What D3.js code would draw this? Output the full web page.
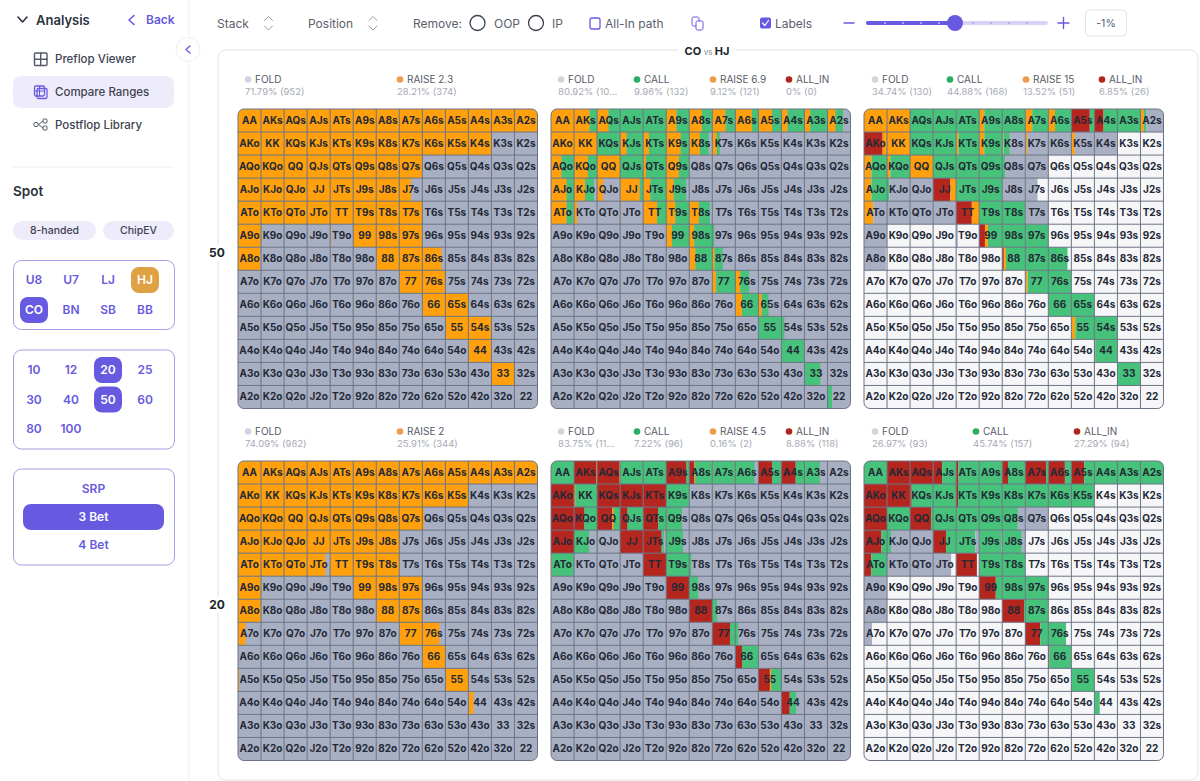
<!DOCTYPE html>
<html>
<head>
<meta charset="utf-8">
<title>Compare Ranges</title>
<script src="https://cdn.jsdelivr.net/npm/d3@7"></script>
<style>
  html, body { margin: 0; padding: 0; background: #fff; overflow: hidden; }
  svg { display: block; font-family: Inter, "Noto Sans", sans-serif; }
</style>
</head>
<body>
<svg id="page" width="1200" height="781"></svg>
<script>
const ranks = ["A","K","Q","J","T","9","8","7","6","5","4","3","2"];
const purple = "#675ae0";
const foldGray = "#a8afc3";
const deadWhite = "#f6f6f8";

// colours of a cell, drawn left to right in this order
const actionColors = { allin: "#b5261f", raise: "#ffa00c", call: "#46c27a", fold: foldGray };

// top left, 50bb, raise 2.3
const tlPureRaise = ["AA","AKs","AQs","AJs","ATs","A9s","A8s","A7s","A6s","A5s","A4s","A3s","A2s",
  "AKo","KK","KQs","KJs","KTs","K9s","K8s","K7s","K6s","K5s","K4s",
  "AQo","KQo","QQ","QJs","QTs","Q9s","Q8s","Q7s",
  "AJo","KJo","QJo","JJ","JTs","J9s","J8s",
  "ATo","KTo","QTo","JTo","TT","T9s","T8s","T7s",
  "A9o","99","98s","97s","88","87s","77","76s","66","65s","55","54s","44","33"];
// [hand, all-in, raise, call, fold]
const tlMixed = [["J7s",0,52,0,48],["T9o",0,5,0,95],["A8o",0,96,0,4],["86s",0,84,0,16]];

// top middle, 50bb, raise 6.9
const tmPureRaise = ["AA","AKo","KK","QQ"];
const tmPureCall = ["AJs","ATs","KQs","QJs","55","44"];
const tmMixed = [["AKs",0,68,32,0],["AQs",0,50,50,0],["A9s",0,45,55,0],["A8s",0,55,45,0],
  ["A7s",0,58,42,0],["A6s",0,72,28,0],["A5s",0,60,40,0],["A4s",0,27,73,0],["A3s",0,25,75,0],["A2s",0,35,33,32],
  ["KJs",0,28,72,0],["KTs",0,25,75,0],["K9s",0,63,37,0],["K8s",0,46,39,15],["K7s",0,20,13,67],["K6s",0,0,4,96],
  ["AQo",0,46,54,0],["KQo",0,60,40,0],["QTs",0,12,88,0],["Q9s",0,55,45,0],
  ["AJo",0,68,32,0],["KJo",0,48,39,13],["QJo",0,27,0,73],["JJ",0,85,15,0],["JTs",0,32,68,0],["J9s",0,33,55,12],
  ["ATo",0,68,28,4],["KTo",0,14,0,86],["JTo",0,3,0,97],["TT",0,61,39,0],["T9s",0,40,60,0],["T8s",0,42,48,10],
  ["99",0,25,75,0],["98s",0,22,78,0],["97s",0,0,10,90],["88",0,27,73,0],["87s",0,10,36,54],
  ["77",0,17,83,0],["76s",0,22,39,39],["66",0,29,71,0],["65s",0,15,30,55],["54s",0,0,14,86],
  ["33",0,0,70,30],["22",0,0,20,80]];

// top right, 50bb, raise 15, hands outside the range stay white
const trPureRaise = ["AA","AKs","KK","QQ"];
const trPureCall = ["AQs","AJs","ATs","A8s","A3s","KQs","KJs","QJs","QTs","Q9s","JTs","J9s",
  "T9s","T8s","98s","97s","87s","76s","66","65s","54s","33"];
const trPureFold = ["K6s","K4s","Q7s","QJo","J8s","KTo","QTo","JTo","T7s","A9o"];
const trMixed = [["A9s",0,22,78,0],["A7s",0,30,70,0],["A6s",0,29,71,0],["A5s",80,0,20,0],["A4s",40,0,60,0],["A2s",0,15,10,75],
  ["AKo",81,19,0,0],["KTs",0,10,90,0],["K9s",0,22,78,0],["K8s",0,5,28,67],["K7s",0,8,0,92],["K5s",0,15,0,85],
  ["AQo",0,32,68,0],["KQo",0,14,86,0],["Q8s",0,0,12,88],
  ["AJo",0,32,68,0],["KJo",0,0,10,90],["JJ",75,25,0,0],["J7s",0,0,0,53],
  ["ATo",0,40,0,60],["TT",68,32,0,0],["T9o",0,0,0,7],["99",25,13,62,0],
  ["A8o",0,0,0,95],["88",7,9,84,0],["86s",0,0,83,0],["77",0,10,90,0],["55",0,17,83,0],["44",4,0,96,0]];

// bottom left, 20bb, raise 2
const blPureRaise = ["AA","AKs","AQs","AJs","ATs","A9s","A8s","A7s","A6s","A5s","A4s","A3s","A2s",
  "AKo","KK","KQs","KJs","KTs","K9s","K8s","K7s","K6s","K5s",
  "AQo","KQo","QQ","QJs","QTs","Q9s","Q8s","Q7s",
  "AJo","KJo","QJo","JJ","JTs","J9s","J8s",
  "ATo","KTo","QTo","TT","T9s","T8s",
  "A9o","99","98s","97s","A8o","88","87s","77","66","55"];
const blMixed = [["Q6s",0,8,0,92],["JTo",0,80,0,20],["A7o",0,33,0,67],["76s",0,75,0,25],["A5o",0,6,0,94],["44",0,23,0,77]];

// bottom middle, 20bb, raise 4.5
const bmPureCall = ["AJs","ATs","K9s","T9s"];
const bmPureAllin = ["AKo","KQs","KJs","KTs","AQo","AJo","JJ","TT","99","88"];
const bmMixed = [["AA",0,2,98,0],["AKs",96,4,0,0],["AQs",97,3,0,0],["A9s",88,0,12,0],["A8s",22,4,74,0],
  ["A7s",0,4,96,0],["A6s",0,3,81,16],["A5s",60,0,40,0],["A4s",62,0,38,0],["A3s",0,0,67,33],
  ["KK",0,6,94,0],["KQo",45,0,55,0],["QQ",65,7,28,0],["QJs",32,0,68,0],["QTs",65,0,35,0],["Q9s",0,2,68,30],
  ["KJo",0,0,65,35],["QJo",0,0,4,96],["JTs",80,0,10,10],["J9s",0,0,74,26],
  ["ATo",0,3,97,0],["T8s",0,0,10,90],["98s",0,0,39,61],["87s",0,0,22,78],
  ["77",77,0,23,0],["76s",0,0,14,86],["66",30,0,70,0],["55",50,6,44,0],["44",36,0,29,35]];

// bottom right, 20bb, no raise size, hands outside the range stay white
const brPureCall = ["AA","A9s","A4s","A3s","A2s","KJs","K9s","K8s","K7s","K6s","K5s",
  "KQo","QJs","QTs","Q9s","T9s","T8s","98s","97s","87s","55"];
const brPureAllin = ["AKs","AQs","AKo","KK","AQo"];
const brPureFold = ["Q7s","QJo","KTo","QTo","A9o","A8o"];
const brMixed = [["AJs",39,0,61,0],["ATs",10,0,90,0],["A8s",25,0,75,0],["A7s",90,0,10,0],["A6s",72,0,28,0],["A5s",56,0,44,0],
  ["KQs",7,0,93,0],["KTs",8,0,92,0],["QQ",91,0,9,0],["Q8s",0,0,68,32],
  ["AJo",76,0,24,0],["KJo",0,0,17,83],["JJ",56,0,44,0],["JTs",0,0,83,17],["J9s",0,0,95,5],["J8s",0,0,85,15],
  ["ATo",32,0,68,0],["JTo",0,0,0,78],["TT",90,0,0,0],
  ["99",72,0,28,0],["88",95,0,5,0],["A7o",0,0,0,35],["77",65,0,35,0],["76s",0,0,77,0],
  ["66",5,0,95,0],["A5o",0,0,0,4],["44",0,0,23,0]];

const panels = [
  { left: 238, top: 109, base: foldGray, pureRaise: tlPureRaise, mixed: tlMixed,
    legendX: [245, 397], names: ["FOLD","RAISE 2.3"], shares: ["71.79% (952)","28.21% (374)"], dots: ["#d3d5de","#f09a4e"] },
  { left: 551, top: 109, base: foldGray, pureRaise: tmPureRaise, pureCall: tmPureCall, mixed: tmMixed,
    legendX: [558, 634, 710, 786], names: ["FOLD","CALL","RAISE 6.9","ALL_IN"],
    shares: ["80.92% (10...","9.96% (132)","9.12% (121)","0% (0)"], dots: ["#d3d5de","#27ae60","#f09a4e","#b2261f"] },
  { left: 864, top: 109, base: deadWhite, pureRaise: trPureRaise, pureCall: trPureCall, pureFold: trPureFold, mixed: trMixed,
    legendX: [872, 947, 1023, 1099], names: ["FOLD","CALL","RAISE 15","ALL_IN"],
    shares: ["34.74% (130)","44.88% (168)","13.52% (51)","6.85% (26)"], dots: ["#d3d5de","#27ae60","#f09a4e","#b2261f"] },
  { left: 238, top: 461, base: foldGray, pureRaise: blPureRaise, mixed: blMixed,
    legendX: [245, 397], names: ["FOLD","RAISE 2"], shares: ["74.09% (982)","25.91% (344)"], dots: ["#d3d5de","#f09a4e"] },
  { left: 551, top: 461, base: foldGray, pureCall: bmPureCall, pureAllin: bmPureAllin, mixed: bmMixed,
    legendX: [558, 634, 710, 786], names: ["FOLD","CALL","RAISE 4.5","ALL_IN"],
    shares: ["83.75% (11...","7.22% (96)","0.16% (2)","8.88% (118)"], dots: ["#d3d5de","#27ae60","#f09a4e","#b2261f"] },
  { left: 864, top: 461, base: deadWhite, pureCall: brPureCall, pureAllin: brPureAllin, pureFold: brPureFold, mixed: brMixed,
    legendX: [872, 973, 1074], names: ["FOLD","CALL","ALL_IN"],
    shares: ["26.97% (93)","45.74% (157)","27.29% (94)"], dots: ["#d3d5de","#27ae60","#b2261f"] }
];

const gridSize = 299.5;
const svg = d3.select("#page");

function handName(i, j) {
  if (i === j) return ranks[i] + ranks[i];
  return i < j ? ranks[i] + ranks[j] + "s" : ranks[j] + ranks[i] + "o";
}

// hand -> [allin, raise, call, fold]
function strategyLookup(p) {
  const lookup = new Map();
  (p.pureAllin || []).forEach(h => lookup.set(h, [100, 0, 0, 0]));
  (p.pureRaise || []).forEach(h => lookup.set(h, [0, 100, 0, 0]));
  (p.pureCall || []).forEach(h => lookup.set(h, [0, 0, 100, 0]));
  (p.pureFold || []).forEach(h => lookup.set(h, [0, 0, 0, 100]));
  p.mixed.forEach(m => lookup.set(m[0], m.slice(1)));
  return lookup;
}

function drawPanel(p, idx) {
  const lookup = strategyLookup(p);
  const band = d3.scaleBand().domain(d3.range(13)).range([0, gridSize]);
  const share = d3.scaleLinear().domain([0, 100]).range([0, band.bandwidth()]);
  const keys = ["allin", "raise", "call", "fold"];

  const g = svg.append("g").attr("transform", `translate(${p.left},${p.top})`);

  const clipId = "clip" + idx;
  g.append("clipPath").attr("id", clipId).append("rect")
      .attr("width", gridSize).attr("height", gridSize).attr("rx", 6);

  const cells = d3.cross(d3.range(13), d3.range(13)).map(([i, j]) => {
    const name = handName(i, j);
    return { i, j, name, values: lookup.get(name) || [0, 0, 0, 0] };
  });

  const body = g.append("g").attr("clip-path", `url(#${clipId})`);
  body.append("rect").attr("width", gridSize).attr("height", gridSize).attr("fill", p.base);

  // coloured pieces of each hand
  cells.forEach(c => {
    const ends = d3.cumsum(c.values);
    keys.forEach((k, n) => {
      if (c.values[n] <= 0) return;
      body.append("rect")
          .attr("x", band(c.j) + share(n === 0 ? 0 : ends[n - 1]))
          .attr("y", band(c.i))
          .attr("width", share(c.values[n]))
          .attr("height", band.bandwidth())
          .attr("fill", actionColors[k]);
    });
  });

  // grid lines
  d3.range(1, 13).forEach(n => {
    body.append("line").attr("x1", band(n)).attr("x2", band(n)).attr("y1", 0).attr("y2", gridSize)
        .attr("stroke", "#6b7485").attr("stroke-width", 1);
    body.append("line").attr("y1", band(n)).attr("y2", band(n)).attr("x1", 0).attr("x2", gridSize)
        .attr("stroke", "#6b7485").attr("stroke-width", 1);
  });

  g.append("rect").attr("width", gridSize).attr("height", gridSize).attr("rx", 6)
      .attr("fill", "none").attr("stroke", "#6b7485").attr("stroke-width", 1);

  g.selectAll("text.hand").data(cells).enter().append("text")
      .attr("class", "hand")
      .attr("x", d => band(d.j) + band.bandwidth() / 2)
      .attr("y", d => band(d.i) + band.bandwidth() / 2)
      .attr("dy", "0.35em")
      .attr("text-anchor", "middle")
      .attr("font-size", 10)
      .attr("font-weight", 700)
      .attr("fill", "#232936")
      .text(d => d.name);

  // legend above the grid
  p.names.forEach((name, n) => {
    const x = p.legendX[n];
    const yHead = p.top - 29.5;
    svg.append("circle").attr("cx", x + 3).attr("cy", yHead).attr("r", 3.3).attr("fill", p.dots[n]);
    svg.append("text").attr("x", x + 10).attr("y", yHead).attr("dy", "0.35em")
        .attr("font-size", 10).attr("fill", "#565b66").text(name);
    svg.append("text").attr("x", x).attr("y", yHead + 12.5).attr("dy", "0.35em")
        .attr("font-size", 9.5).attr("fill", "#a6a9b2").text(p.shares[n]);
  });
}

// small helpers for the app chrome
function label(x, y, str, size, color, weight, anchor) {
  return svg.append("text").attr("x", x).attr("y", y).attr("dy", "0.35em")
      .attr("font-size", size).attr("fill", color).attr("font-weight", weight || 400)
      .attr("text-anchor", anchor || "start").text(str);
}
function box(x, y, w, h, rx, fill, stroke) {
  return svg.append("rect").attr("x", x).attr("y", y).attr("width", w).attr("height", h).attr("rx", rx)
      .attr("fill", fill).attr("stroke", stroke || "none");
}
function stroke(d, color, width) {
  return svg.append("path").attr("d", d).attr("fill", "none").attr("stroke", color)
      .attr("stroke-width", width || 1.5).attr("stroke-linecap", "round").attr("stroke-linejoin", "round");
}

function drawSidebar() {
  const ink = "#3d4350";
  svg.append("line").attr("x1", 189).attr("x2", 189).attr("y1", 0).attr("y2", 781).attr("stroke", "#eeeef2");
  svg.append("circle").attr("cx", 188).attr("cy", 49.5).attr("r", 12).attr("fill", "#fff").attr("stroke", "#eeeef2");
  stroke("M190 46 L186 49.5 L190 53", purple, 1.4);

  stroke("M18 17 L22.5 22 L27 17", "#2c3340", 1.6);
  label(36, 20, "Analysis", 13, "#2c3340", 600);
  stroke("M134 15.5 L129 20 L134 24.5", purple, 1.6);
  label(146, 20, "Back", 12, purple, 600);

  box(13, 76, 161, 32, 8, "#eeecfb");
  label(55, 59, "Preflop Viewer", 11.5, ink, 500);
  label(55, 92, "Compare Ranges", 11.5, ink, 500);
  label(55, 124.5, "Postflop Library", 11.5, ink, 500);

  // icons
  box(34.5, 53, 12.5, 12.5, 1, "none", "#535a68").attr("stroke-width", 1.4);
  stroke("M40.7 53 V65.5 M34.5 59.2 H47", "#535a68", 1.4);
  box(34.5, 86, 10, 10, 1.5, "none", purple).attr("stroke-width", 1.3);
  box(37, 88.5, 10, 10, 1.5, "none", purple).attr("stroke-width", 1.3);
  stroke("M39.5 86 V96 M34.5 91 H44.5", purple, 1.1);
  svg.append("circle").attr("cx", 36).attr("cy", 124.5).attr("r", 2.2).attr("fill", "none").attr("stroke", "#535a68");
  box(43, 119, 4, 4, 1, "none", "#535a68");
  box(43, 126, 4, 4, 1, "none", "#535a68");
  stroke("M38.5 124.5 L43 121 M38.5 124.5 L43 128", "#535a68", 1);

  svg.append("line").attr("x1", 13).attr("x2", 174).attr("y1", 167).attr("y2", 167).attr("stroke", "#eeeef2");
  label(13, 191.5, "Spot", 13.5, "#2c3340", 600);

  box(13, 221, 83, 19, 9.5, "#eeecfb");
  box(103, 221, 71, 19, 9.5, "#eeecfb");
  label(54.5, 230.5, "8-handed", 10.5, ink, 500, "middle");
  label(138.5, 230.5, "ChipEV", 10.5, ink, 500, "middle");

  box(13.5, 260.5, 161, 69, 8, "#fff", "#a49ee6");
  box(13.5, 350, 161, 99, 8, "#fff", "#a49ee6");
  box(13.5, 469, 161, 96, 8, "#fff", "#a49ee6");

  const colX = [34, 71, 108, 145];
  const rowsA = [["U8","U7","LJ","HJ"], ["CO","BN","SB","BB"]];
  const rowsB = [["10","12","20","25"], ["30","40","50","60"], ["80","100"]];
  box(131, 267, 28, 26, 8, "#dfa143");
  box(20, 297, 28, 26, 8, purple);
  box(94, 357, 28, 26, 8, purple);
  box(94, 386.5, 28, 26, 8, purple);
  const picked = ["HJ", "CO", "20", "50"];
  rowsA.forEach((row, r) => row.forEach((t, c) =>
    label(colX[c], 280 + r * 29.5, t, 12, picked.includes(t) ? "#fff" : purple, 600, "middle")));
  rowsB.forEach((row, r) => row.forEach((t, c) =>
    label(colX[c], 370 + r * 29.5, t, 12, picked.includes(t) ? "#fff" : purple, 600, "middle")));

  box(23, 504, 141, 26, 8, purple);
  label(93.5, 489, "SRP", 12, purple, 600, "middle");
  label(93.5, 517, "3 Bet", 12, "#fff", 600, "middle");
  label(93.5, 545, "4 Bet", 12, purple, 600, "middle");
}

function drawToolbar() {
  const ink = "#5b606c";
  label(217, 23.5, "Stack", 12, ink, 400);
  label(308, 23.5, "Position", 12, ink, 400);
  [268.5, 373].forEach(x => {
    stroke(`M${x - 4} 20.5 L${x} 16.5 L${x + 4} 20.5 M${x - 4} 26 L${x} 30 L${x + 4} 26`, "#9a9ea8", 1);
  });
  label(413, 23.5, "Remove:", 12, ink, 400);
  [477.5, 536].forEach(x => svg.append("circle").attr("cx", x).attr("cy", 23).attr("r", 7.5)
      .attr("fill", "#fff").attr("stroke", "#3c4250").attr("stroke-width", 1.3));
  label(494, 23.5, "OOP", 12, ink, 400);
  label(552, 23.5, "IP", 12, ink, 400);
  box(590, 18, 10, 11, 2, "#fff", purple).attr("stroke-width", 1.3);
  label(605, 23.5, "All-In path", 12, ink, 400);
  box(692, 17, 7, 9, 1.5, "#fff", purple);
  box(696, 21, 7, 9, 1.5, "#fff", purple);
  box(760, 17.5, 11, 11, 2, purple);
  stroke("M762.5 23 L764.8 25.5 L768.5 20.5", "#fff", 1.2);
  label(775, 23.5, "Labels", 12, ink, 400);

  // slider
  stroke("M844 23 H854", purple, 1.4);
  stroke("M1058 23 H1069 M1063.5 17.5 V28.5", purple, 1.4);
  box(866, 21, 182, 4, 2, "#d7d3f6");
  box(866, 21, 89, 4, 2, purple);
  [885, 903, 921, 939, 973, 991, 1009, 1027].forEach(x =>
    svg.append("circle").attr("cx", x).attr("cy", 23).attr("r", 0.8).attr("fill", x < 955 ? "#fff" : "#8f86e6"));
  svg.append("circle").attr("cx", 955).attr("cy", 23).attr("r", 8).attr("fill", purple);

  box(1085.5, 10, 41, 26, 4, "#fff", "#e3e3e7");
  label(1106, 23.5, "-1%", 10.5, ink, 400, "middle");
}

function drawFrame() {
  box(218, 50, 980, 730, 8, "#fff", "#e2e2e6");
  box(678, 44, 58, 12, 0, "#fff");
  const title = svg.append("text").attr("x", 707).attr("y", 49.5).attr("dy", "0.35em")
      .attr("text-anchor", "middle").attr("fill", "#20242c");
  title.append("tspan").attr("font-size", 11).attr("font-weight", 700).text("CO ");
  title.append("tspan").attr("font-size", 8).attr("fill", "#8a8d96").text("vs ");
  title.append("tspan").attr("font-size", 11).attr("font-weight", 700).text("HJ");

  [["50", 253], ["20", 605]].forEach(([t, y]) => {
    box(208, y - 8, 20, 16, 0, "#fff");
    label(217, y, t, 12, "#20242c", 700, "middle");
  });
}

drawSidebar();
drawToolbar();
drawFrame();
panels.forEach(drawPanel);
</script>
</body>
</html>
